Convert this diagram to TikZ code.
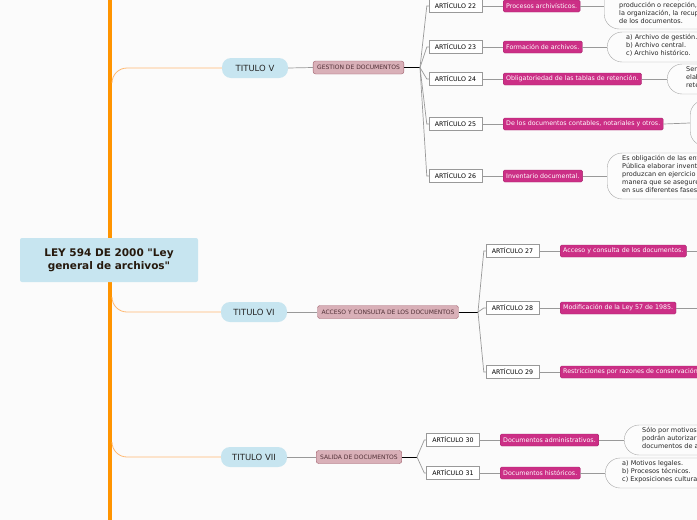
\documentclass[tikz,border=0pt]{standalone}
\usepackage{fontspec}
\setmainfont{DejaVu Sans}[Ligatures=TeXOff]
\begin{document}
\begin{tikzpicture}[x=1pt,y=-1pt,
 every node/.style={inner sep=0pt,font=\fontsize{6.5}{8}\selectfont},
 titlebox/.style={rounded corners=9pt,fill=titfill,minimum width=66pt,minimum height=20pt,font=\fontsize{8.5}{10}\selectfont,text=black!85},
 secbox/.style={rounded corners=2.5pt,fill=secfill,draw=secdraw,minimum height=13pt,inner xsep=4pt,font=\fontsize{6}{7}\selectfont,text=secdraw!50!black},
 artbox/.style={draw=gray!80,fill=white,minimum width=53pt,minimum height=13pt,font=\fontsize{6.3}{7}\selectfont},
 pinkbox/.style={rounded corners=1.5pt,fill=pinkfill,draw=pinkfill!80!black,minimum height=12pt,inner xsep=3pt,text=white,font=\fontsize{6.3}{7}\selectfont},
 bubble/.style={rounded corners=15pt,draw=gray!70,fill=white!98!gray},
 btext/.style={anchor=north west,align=left,font=\fontsize{6.5}{8}\selectfont,text=black!85},
 gl/.style={draw=gray!80,line width=0.7pt},
 ol/.style={draw=orange!55,line width=0.8pt}]
\definecolor{titfill}{HTML}{C7E5F0}
\definecolor{secfill}{HTML}{D9B0B8}
\definecolor{secdraw}{HTML}{A0606C}
\definecolor{pinkfill}{HTML}{CC2F86}
\definecolor{orangeT}{HTML}{FF9400}
\useasboundingbox (0,0) rectangle (697,520);
\clip (0,0) rectangle (697,520);
\fill[white!97!gray] (0,0) rectangle (697,520);
% trunk
\draw[orangeT,line width=3.5pt] (110,0) -- (110,520);
% titles
\node[titlebox] (t5) at (255,68) {TITULO V};
\node[titlebox] (t6) at (254,312) {TITULO VI};
\node[titlebox] (t7) at (254,457) {TITULO VII};
\coordinate (o5) at (112,83);
\coordinate (o6) at (112,297);
\coordinate (o7) at (112,442);
\draw[ol] (o5) to[out=90,in=180] (127,68) -- (t5.west);
\draw[ol] (o6) to[out=-90,in=180] (127,312) -- (t6.west);
\draw[ol] (o7) to[out=-90,in=180] (127,457) -- (t7.west);
% root
\node[fill=titfill,rounded corners=2pt,minimum width=178pt,minimum height=44pt,align=center,font=\bfseries\fontsize{10.5}{13}\selectfont,text=black!80!brown] (root) at (109,260) {LEY 594 DE 2000 "Ley\\general de archivos"};
% sections
\node[secbox] (s5) at (358.5,67.5) {GESTION DE DOCUMENTOS};
\node[secbox] (s6) at (388,312) {ACCESO Y CONSULTA DE LOS DOCUMENTOS};
\node[secbox] (s7) at (359,457) {SALIDA DE DOCUMENTOS};
\draw[gl] (t5.east) -- (s5.west);
\draw[gl] (t6.east) -- (s6.west);
\draw[gl] (t7.east) -- (s7.west);
% articles
\coordinate (f5) at (420,67.5);
\draw[black,line width=0.8pt] (s5.east) -- (f5);
\foreach \n/\y in {22/6,23/47,24/79,25/124,26/176}{
 \node[artbox] (a\n) at (455.5,\y) {ARTÍCULO \n};
 \draw[gl] (f5) -- ([xshift=-2pt]a\n.west) -- (a\n.west);
}
\coordinate (f6) at (478,312);
\draw[black,line width=0.8pt] (s6.east) -- (f6);
\foreach \n/\y in {27/251,28/308,29/372}{
 \node[artbox] (a\n) at (512.5,\y) {ARTÍCULO \n};
 \draw[gl] (f6) -- ([xshift=-2pt]a\n.west) -- (a\n.west);
}
\coordinate (f7) at (417,457);
\draw[black,line width=0.8pt] (s7.east) -- (f7);
\foreach \n/\y in {30/440,31/473}{
 \node[artbox] (a\n) at (453,\y) {ARTÍCULO \n};
 \draw[gl] (f7) -- ([xshift=-2pt]a\n.west) -- (a\n.west);
}
% pink
\node[pinkbox,anchor=west] (p22) at (503,6) {Procesos archivísticos.};
\node[pinkbox,anchor=west] (p23) at (503,47) {Formación de archivos.};
\node[pinkbox,anchor=west] (p24) at (503,79) {Obligatoriedad de las tablas de retención.};
\node[pinkbox,anchor=west] (p25) at (503,124) {De los documentos contables, notariales y otros.};
\node[pinkbox,anchor=west] (p26) at (503,176) {Inventario documental.};
\node[pinkbox,anchor=west] (p27) at (560,251) {Acceso y consulta de los documentos.};
\node[pinkbox,anchor=west] (p28) at (560,308) {Modificación de la Ley 57 de 1985.};
\node[pinkbox,anchor=west] (p29) at (560,372) {Restricciones por razones de conservación.};
\node[pinkbox,anchor=west] (p30) at (500,440) {Documentos administrativos.};
\node[pinkbox,anchor=west] (p31) at (500,473) {Documentos históricos.};
\foreach \n in {22,...,31}{\draw[gl] (a\n.east) -- (p\n.west);}
% bubbles
\node[bubble,anchor=west,minimum width=130pt,minimum height=46pt] (b22) at (604,6) {};
\node[bubble,anchor=west,minimum width=110pt,minimum height=30pt] (b23) at (607,47) {};
\node[bubble,anchor=west,minimum width=80pt,minimum height=30pt] (b24) at (667,79) {};
\node[bubble,anchor=west,minimum width=80pt,minimum height=46pt] (b25) at (690,123) {};
\node[bubble,anchor=west,minimum width=130pt,minimum height=46pt] (b26) at (607,176) {};
\node[bubble,anchor=west,minimum width=110pt,minimum height=30pt] (b30) at (624,440) {};
\node[bubble,anchor=west,minimum width=130pt,minimum height=30pt] (b31) at (605,473) {};
\foreach \n in {22,23,24,25,26,30,31}{\draw[gl] (p\n.east) -- (b\n.west);}
\coordinate (e27) at (697,251);
\coordinate (e28) at (697,308);
\draw[gl] (p27.east) -- (e27);
\draw[gl] (p28.east) -- (e28);
\node[btext] at (619,-6) {archivo total, comprende la\\producción o recepción, la distribución,\\la organización, la recuperación y la disposición\\de los documentos.};
\node[btext] at (626,34) {a) Archivo de gestión.\\b) Archivo central.\\c) Archivo histórico.};
\node[btext] at (686,66) {Será obligación\\elaborar y adoptar\\retención};
\node[btext] at (622,155) {Es obligación de las entidades de la Administración\\Pública elaborar inventarios de los documentos que\\produzcan en ejercicio de sus funciones, de\\manera que se asegure el control de los documentos\\en sus diferentes fases.};
\node[btext] at (642,427) {Sólo por motivos\\podrán autorizar\\documentos de archivo};
\node[btext] at (622,460) {a) Motivos legales.\\b) Procesos técnicos.\\c) Exposiciones culturales.};
\end{tikzpicture}
\end{document}
